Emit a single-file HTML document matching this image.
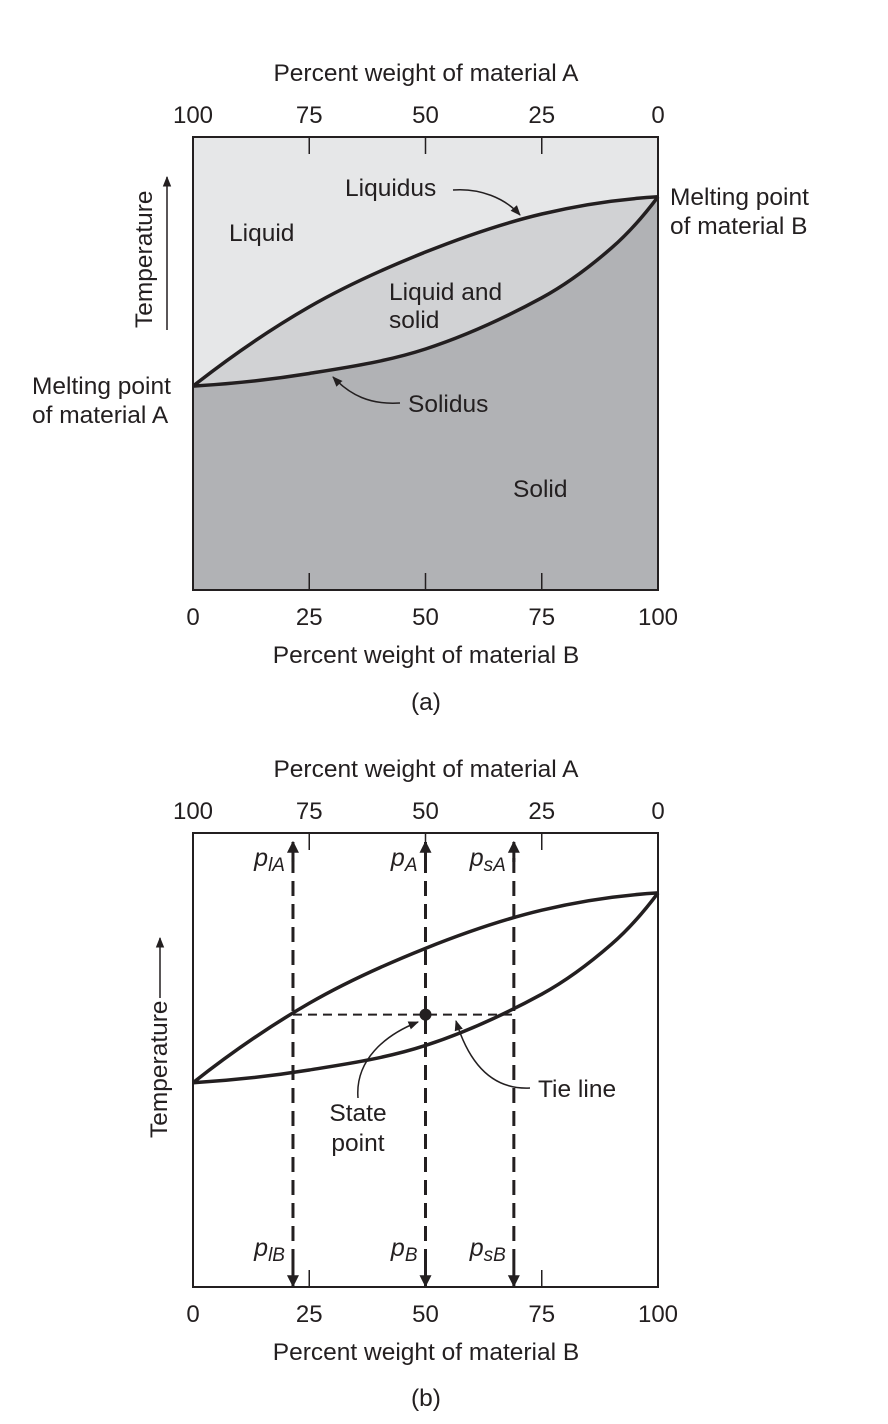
<!DOCTYPE html>
<html><head><meta charset="utf-8"><style>
html,body{margin:0;padding:0;background:#fff}
svg text{font-family:"Liberation Sans",sans-serif;fill:#231f20}
</style></head><body>
<svg id="fig" width="888" height="1419" viewBox="0 0 888 1419" xmlns="http://www.w3.org/2000/svg">
<defs>
<marker id="ah" viewBox="0 0 10 10" refX="9" refY="5" markerWidth="7" markerHeight="7" orient="auto-start-reverse"><path d="M0,1 L10,5 L0,9 Z" fill="#231f20"/></marker>
<marker id="ah2" viewBox="0 0 10 10" refX="9" refY="5" markerWidth="4" markerHeight="5" orient="auto-start-reverse"><path d="M0,0 L10,5 L0,10 Z" fill="#231f20"/></marker>
</defs>
<g id="pa"></g>
<g id="pb"></g>
</svg>
<script>
const tickLabelsB = ["0","25","50","75","100"];
const tickLabelsA = ["100","75","50","25","0"];
const liquidusB = [0, 25, 50, 75, 100];
const liquidusT = [45, 62.5, 74.6, 83.0, 86.8];
const solidusB = [0, 25, 50, 75, 90, 100];
const solidusT = [45, 47.8, 53.2, 64.5, 75.5, 86.8];
const tieB = [21.5, 50, 69];
const tieLabels = ["lA","A","sA"];
const tieLabelsB = ["lB","B","sB"];

const NS="http://www.w3.org/2000/svg";
const X0=193,X1=658;
function xs(p){return X0+(X1-X0)*p/100;}
function mk(parent,tag,attrs,text){const e=document.createElementNS(NS,tag);for(const k in attrs)e.setAttribute(k,attrs[k]);if(text!==undefined)e.textContent=text;parent.appendChild(e);return e;}
function spline(pts){
 const n=pts.length, sl=[];
 for(let i=1;i<n-1;i++) sl[i]=(pts[i+1][1]-pts[i-1][1])/(pts[i+1][0]-pts[i-1][0]);
 const sec0=(pts[1][1]-pts[0][1])/(pts[1][0]-pts[0][0]);
 const secN=(pts[n-1][1]-pts[n-2][1])/(pts[n-1][0]-pts[n-2][0]);
 sl[0]=n>2?2*sec0-sl[1]:sec0; sl[n-1]=n>2?2*secN-sl[n-2]:secN;
 let d="M"+pts[0][0]+","+pts[0][1];
 for(let i=0;i<n-1;i++){const p1=pts[i],p2=pts[i+1],h=p2[0]-p1[0];
  d+=" C"+(p1[0]+h/3)+","+(p1[1]+sl[i]*h/3)+" "+(p2[0]-h/3)+","+(p2[1]-sl[i+1]*h/3)+" "+p2[0]+","+p2[1];}
 return d;}

function panel(g,Y0,Y1,fill){
  const ys=t=>Y1-(Y1-Y0)*t/100;
  const L=liquidusB.map((b,i)=>[xs(b),ys(liquidusT[i])]);
  const S=solidusB.map((b,i)=>[xs(b),ys(solidusT[i])]);
  const ld=spline(L), sd=spline(S);
  if(fill){
    let r=mk(g,"rect",{x:X0,y:Y0,width:X1-X0,height:Y1-Y0,fill:"#e6e7e8"});
    
    let two=mk(g,"path",{d:ld+` L${X1},${Y1} L${X0},${Y1} Z`,fill:"#d1d2d4"});
    
    let s2=mk(g,"path",{d:sd+` L${X1},${Y1} L${X0},${Y1} Z`,fill:"#b1b2b5"});
    
  }
  let lq=mk(g,"path",{d:ld,fill:"none",stroke:"#231f20","stroke-width":3.5});
  
  let sq=mk(g,"path",{d:sd,fill:"none",stroke:"#231f20","stroke-width":3.5});
  
  let fr=mk(g,"rect",{x:X0,y:Y0,width:X1-X0,height:Y1-Y0,fill:"none",stroke:"#231f20","stroke-width":2});
  
  for(let i=0;i<5;i++){
    const x=xs(i*25);
    if(i>0&&i<4){mk(g,"line",{x1:x,y1:Y0,x2:x,y2:Y0+17,stroke:"#231f20","stroke-width":1.5});mk(g,"line",{x1:x,y1:Y1,x2:x,y2:Y1-17,stroke:"#231f20","stroke-width":1.5});}
    let t1=mk(g,"text",{x:x,y:Y0-14,"text-anchor":"middle","font-size":24},tickLabelsA[i]);
    
    let t2=mk(g,"text",{x:x,y:Y1+35,"text-anchor":"middle","font-size":24},tickLabelsB[i]);
    
  }
  let ta=mk(g,"text",{x:426,y:Y0-56,"text-anchor":"middle","font-size":24.5},"Percent weight of material A");
  
  let tb=mk(g,"text",{x:426,y:Y1+73,"text-anchor":"middle","font-size":24.5},"Percent weight of material B");
  
  return {ys,L,S};
}
const ga=document.getElementById("pa"), gb=document.getElementById("pb");
const A=panel(ga,137,590,true);
function txt(g,x,y,s,name,extra){const t=mk(g,"text",Object.assign({x:x,y:y,"font-size":24.5},extra||{}),s);return t;}
txt(ga,229,241,"Liquid","liquid-label");
txt(ga,389,300,"Liquid and","two-phase-label");
txt(ga,389,328,"solid","two-phase-label-2");
txt(ga,513,497,"Solid","solid-label");
txt(ga,345,196,"Liquidus","liquidus-label");
txt(ga,408,412,"Solidus","solidus-label");
txt(ga,670,205,"Melting point","melting-point-b");
txt(ga,670,234,"of material B","melting-point-b-2");
txt(ga,32,394,"Melting point","melting-point-a");
txt(ga,32,423,"of material A","melting-point-a-2");
txt(ga,426,710,"(a)","caption-a",{"text-anchor":"middle"});
mk(ga,"path",{d:"M453,190 C480,188 505,198 520,215",fill:"none",stroke:"#231f20","stroke-width":1.5,"marker-end":"url(#ah)"});
mk(ga,"path",{d:"M400,403 C370,405 350,395 333,377",fill:"none",stroke:"#231f20","stroke-width":1.5,"marker-end":"url(#ah)"});
txt(ga,0,0,"Temperature","y-axis-title",{transform:"translate(152,328) rotate(-90)"});
mk(ga,"line",{x1:167,y1:330,x2:167,y2:177,stroke:"#231f20","stroke-width":1.5,"marker-end":"url(#ah)"});

const B=panel(gb,833,1287,false);
const yTie=B.ys(60);
tieB.forEach((b,i)=>{
  const x=xs(b);
  let l=mk(gb,"line",{x1:x,y1:858,x2:x,y2:1270,stroke:"#231f20","stroke-width":3,"stroke-dasharray":"15,8"});
  
  mk(gb,"line",{x1:x,y1:862,x2:x,y2:842,stroke:"#231f20","stroke-width":3,"marker-end":"url(#ah2)"});
  mk(gb,"line",{x1:x,y1:1264,x2:x,y2:1286,stroke:"#231f20","stroke-width":3,"marker-end":"url(#ah2)"});
  const t=mk(gb,"text",{x:x-8,y:866,"text-anchor":"end","font-size":25,"font-style":"italic"});
  
  t.innerHTML='p<tspan font-size="19" dy="5">'+tieLabels[i]+'</tspan>';
  const t2=mk(gb,"text",{x:x-8,y:1256,"text-anchor":"end","font-size":25,"font-style":"italic"});
  
  t2.innerHTML='p<tspan font-size="19" dy="5">'+tieLabelsB[i]+'</tspan>';
});
let tl=mk(gb,"line",{x1:xs(tieB[0]),y1:yTie,x2:xs(tieB[2]),y2:yTie,stroke:"#231f20","stroke-width":2,"stroke-dasharray":"9,6"});

let dot=mk(gb,"circle",{cx:xs(tieB[1]),cy:yTie,r:6,fill:"#231f20"});

mk(gb,"path",{d:"M358,1098 C355,1060 385,1035 418,1022",fill:"none",stroke:"#231f20","stroke-width":1.5,"marker-end":"url(#ah)"});
mk(gb,"path",{d:"M530,1088 C490,1090 468,1060 456,1021",fill:"none",stroke:"#231f20","stroke-width":1.5,"marker-end":"url(#ah)"});
txt(gb,358,1121,"State","state-point-label",{"text-anchor":"middle"});
txt(gb,358,1151,"point","state-point-label-2",{"text-anchor":"middle"});
txt(gb,538,1097,"Tie line","tie-line-label");
txt(gb,0,0,"Temperature","y-axis-title-b",{transform:"translate(167,1138) rotate(-90)"});
mk(gb,"line",{x1:160,y1:998,x2:160,y2:938,stroke:"#231f20","stroke-width":1.5,"marker-end":"url(#ah)"});
txt(gb,426,1406,"(b)","caption-b",{"text-anchor":"middle"});
</script>
</body></html>
